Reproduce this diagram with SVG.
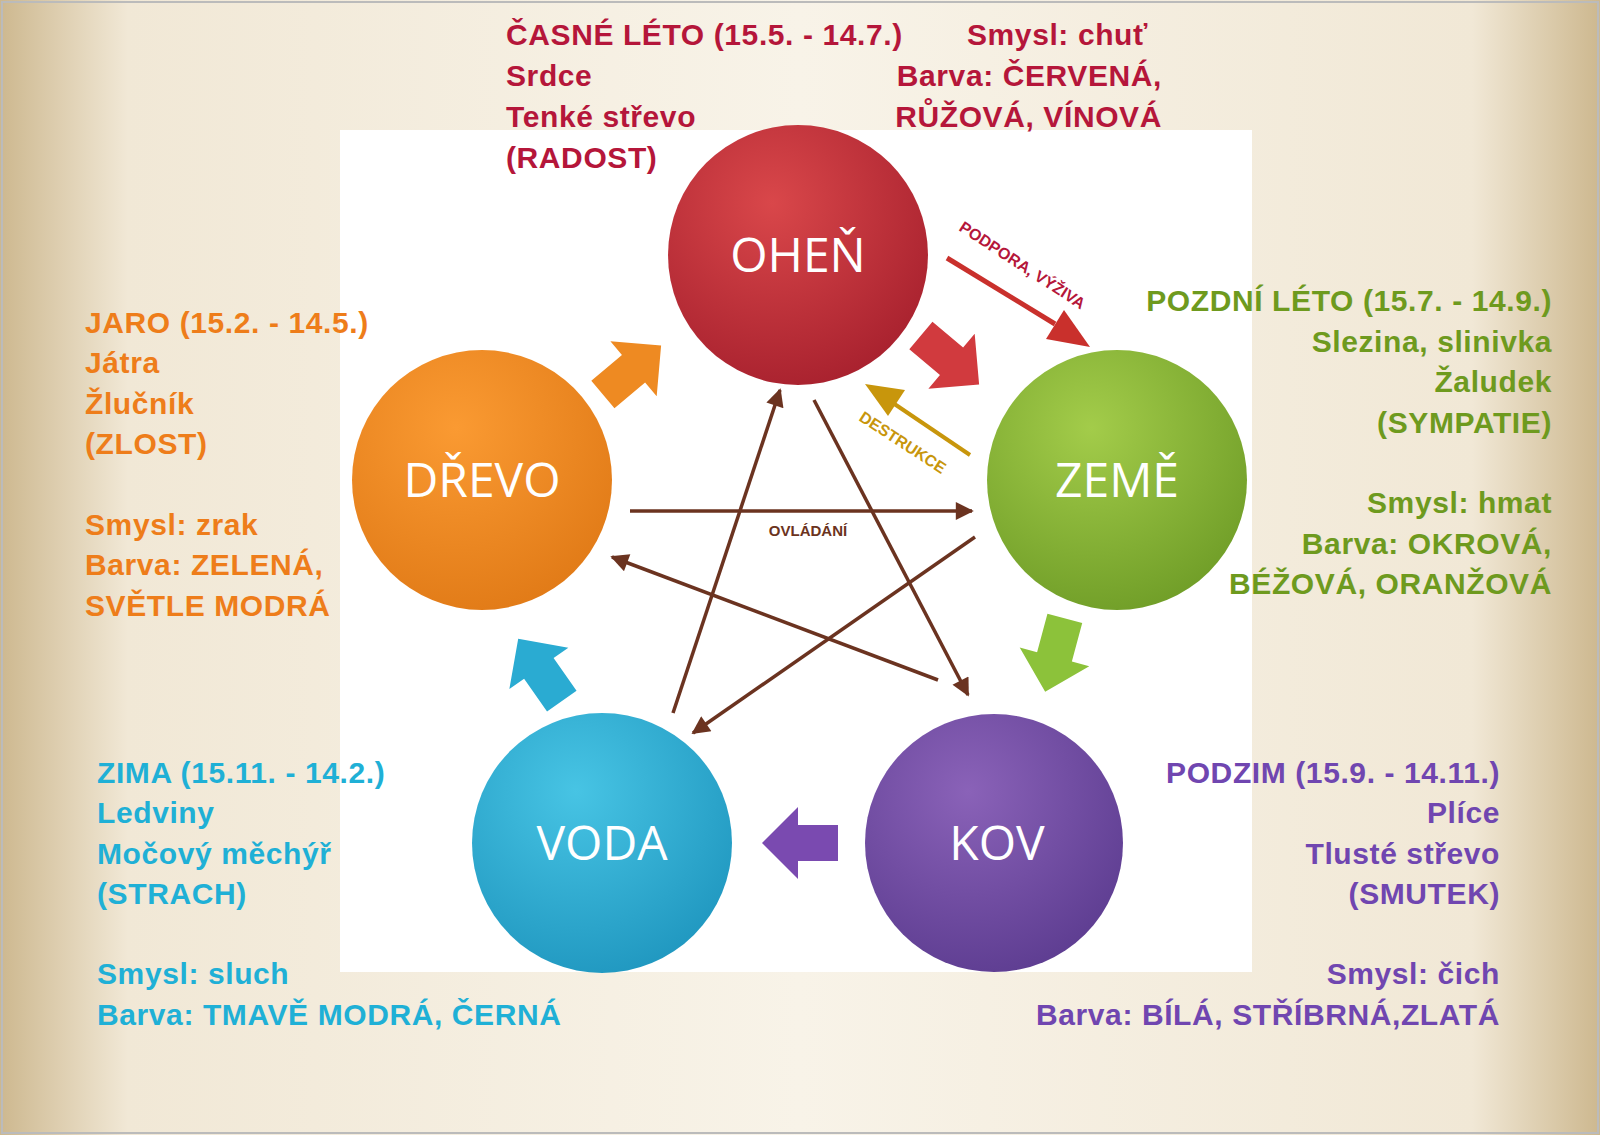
<svg xmlns="http://www.w3.org/2000/svg" width="1600" height="1135" viewBox="0 0 1600 1135">
<defs>
<linearGradient id="bg" x1="0" y1="0" x2="1" y2="0">
<stop offset="0" stop-color="#cdb88f"/><stop offset="0.08" stop-color="#f1e8d6"/><stop offset="0.5" stop-color="#f8f3e8"/><stop offset="0.92" stop-color="#f1e8d6"/><stop offset="1" stop-color="#cdb88f"/>
</linearGradient>
<radialGradient id="gR" cx="0.4" cy="0.3" r="0.8"><stop offset="0" stop-color="#d9474a"/><stop offset="1" stop-color="#a41e2c"/></radialGradient>
<radialGradient id="gG" cx="0.4" cy="0.3" r="0.8"><stop offset="0" stop-color="#a3cc4a"/><stop offset="1" stop-color="#6c9a25"/></radialGradient>
<radialGradient id="gP" cx="0.4" cy="0.3" r="0.8"><stop offset="0" stop-color="#8a62b8"/><stop offset="1" stop-color="#5a3a8e"/></radialGradient>
<radialGradient id="gB" cx="0.4" cy="0.3" r="0.8"><stop offset="0" stop-color="#47c4e4"/><stop offset="1" stop-color="#1d94bd"/></radialGradient>
<radialGradient id="gO" cx="0.4" cy="0.3" r="0.8"><stop offset="0" stop-color="#fa9a32"/><stop offset="1" stop-color="#df7815"/></radialGradient>
<marker id="mb" viewBox="0 0 10 10" refX="9" refY="5" markerWidth="22" markerHeight="18" orient="auto" markerUnits="userSpaceOnUse"><path d="M0,0 L10,5 L0,10 Z" fill="#6b3320"/></marker>
<path id="blk" d="M-38,-18 L2,-18 L2,-36 L38,0 L2,36 L2,18 L-38,18 Z"/>
</defs>
<style>
.t{font-family:"Liberation Sans","DejaVu Sans",sans-serif;font-weight:bold;font-size:30px;letter-spacing:0.6px}
.n{font-family:"Open Sans","Liberation Sans",sans-serif;font-size:48px;fill:#fff}
.r{fill:#b5163a}.o{fill:#ee7d1a}.g{fill:#6e9a1e}.p{fill:#7046b0}.b{fill:#1fb0d6}
.e{text-anchor:end}
.star{stroke:#6b3320;stroke-width:3.5;fill:none}
</style>
<rect width="1600" height="1135" fill="url(#bg)"/>
<rect x="2" y="2" width="1596" height="1131" fill="none" stroke="#bbb" stroke-width="2"/>
<rect x="340" y="130" width="912" height="842" fill="#fff"/>

<g id="connectors">
<use href="#blk" fill="#ee8a22" transform="translate(632,370) rotate(-40)"/>
<use href="#blk" fill="#d13a3e" transform="translate(950,360) rotate(40)"/>
<use href="#blk" fill="#8cc23a" transform="translate(1055,655) rotate(105)"/>
<use href="#blk" fill="#7a4ab0" transform="translate(800,843) rotate(180)"/>
<use href="#blk" fill="#2aabd2" transform="translate(540,670) rotate(-125)"/>
<line class="star" x1="630" y1="511" x2="972" y2="511" marker-end="url(#mb)"/>
<line class="star" x1="975" y1="537" x2="693" y2="733" marker-end="url(#mb)"/>
<line class="star" x1="673" y1="713" x2="780" y2="390" marker-end="url(#mb)"/>
<line class="star" x1="814" y1="400" x2="968" y2="695" marker-end="url(#mb)"/>
<line class="star" x1="938" y1="680" x2="612" y2="557" marker-end="url(#mb)"/>
<text x="808" y="536" text-anchor="middle" font-family="Liberation Sans,sans-serif" font-weight="bold" font-size="15" fill="#6b3320">OVLÁDÁNÍ</text>
<line x1="947" y1="258" x2="1055" y2="324" stroke="#c9302c" stroke-width="5"/>
<path d="M1090,347 L1046,339 L1064,310 Z" fill="#c9302c"/>
<text transform="translate(958,230) rotate(33)" font-family="Liberation Sans,sans-serif" font-weight="bold" font-size="16" fill="#b5163a">PODPORA, VÝŽIVA</text>
<line x1="970" y1="455" x2="893" y2="403" stroke="#c8960c" stroke-width="4"/>
<path d="M865,384 L905,390 L888,416 Z" fill="#c8960c"/>
<text transform="translate(858,420) rotate(33)" font-family="Liberation Sans,sans-serif" font-weight="bold" font-size="16" fill="#c8960c">DESTRUKCE</text>
</g>

<g id="ohen"><circle cx="798" cy="255" r="130" fill="url(#gR)"/><text class="n" x="798" y="272" text-anchor="middle">OHEŇ</text></g>
<g id="zeme"><circle cx="1117" cy="480" r="130" fill="url(#gG)"/><text class="n" x="1117" y="497" text-anchor="middle">ZEMĚ</text></g>
<g id="kov"><circle cx="994" cy="843" r="129" fill="url(#gP)"/><text class="n" x="997" y="860" text-anchor="middle">KOV</text></g>
<g id="voda"><circle cx="602" cy="843" r="130" fill="url(#gB)"/><text class="n" x="602" y="860" text-anchor="middle">VODA</text></g>
<g id="drevo"><circle cx="482" cy="480" r="130" fill="url(#gO)"/><text class="n" x="482" y="497" text-anchor="middle">DŘEVO</text></g>

<g id="leto" class="t r">
<text x="506" y="45">ČASNÉ LÉTO (15.5. - 14.7.)</text>
<text x="506" y="86">Srdce</text>
<text x="506" y="127">Tenké střevo</text>
<text x="506" y="168">(RADOST)</text>
<text class="e" x="1148" y="45">Smysl:  chuť</text>
<text class="e" x="1162" y="86">Barva: ČERVENÁ,</text>
<text class="e" x="1162" y="127">RŮŽOVÁ, VÍNOVÁ</text>
</g>
<g id="jaro" class="t o">
<text x="85" y="333">JARO (15.2. - 14.5.)</text>
<text x="85" y="373">Játra</text>
<text x="85" y="414">Žlučník</text>
<text x="85" y="454">(ZLOST)</text>
<text x="85" y="535">Smysl: zrak</text>
<text x="85" y="575">Barva: ZELENÁ,</text>
<text x="85" y="616">SVĚTLE MODRÁ</text>
</g>
<g id="pozdni" class="t g e">
<text x="1552" y="311">POZDNÍ LÉTO (15.7. - 14.9.)</text>
<text x="1552" y="352">Slezina, slinivka</text>
<text x="1552" y="392">Žaludek</text>
<text x="1552" y="433">(SYMPATIE)</text>
<text x="1552" y="513">Smysl: hmat</text>
<text x="1552" y="554">Barva: OKROVÁ,</text>
<text x="1552" y="594">BÉŽOVÁ, ORANŽOVÁ</text>
</g>
<g id="zima" class="t b">
<text x="97" y="783">ZIMA (15.11. - 14.2.)</text>
<text x="97" y="823">Ledviny</text>
<text x="97" y="864">Močový měchýř</text>
<text x="97" y="904">(STRACH)</text>
<text x="97" y="984">Smysl: sluch</text>
<text x="97" y="1025">Barva: TMAVĚ MODRÁ, ČERNÁ</text>
</g>
<g id="podzim" class="t p e">
<text x="1500" y="783">PODZIM (15.9. - 14.11.)</text>
<text x="1500" y="823">Plíce</text>
<text x="1500" y="864">Tlusté střevo</text>
<text x="1500" y="904">(SMUTEK)</text>
<text x="1500" y="984">Smysl: čich</text>
<text x="1500" y="1025">Barva: BÍLÁ, STŘÍBRNÁ,ZLATÁ</text>
</g>
</svg>
